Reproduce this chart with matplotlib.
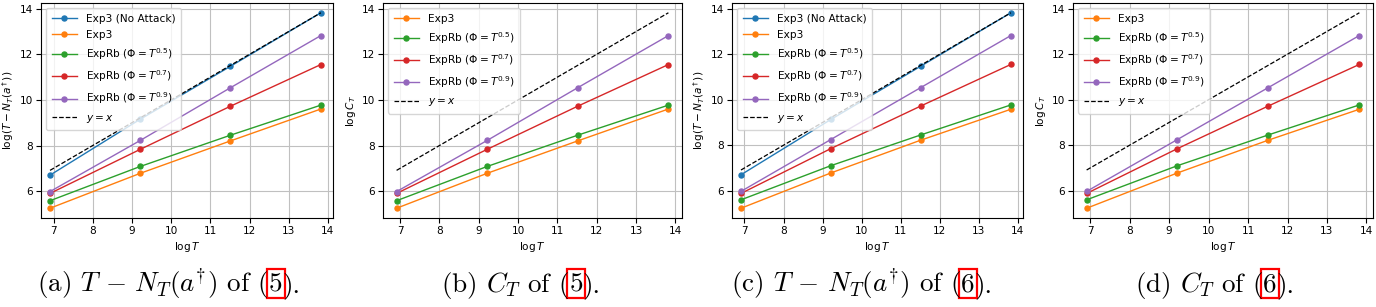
import numpy as np
import matplotlib
matplotlib.use("Agg")
import matplotlib.pyplot as plt
from matplotlib.patches import Rectangle

# log T values (T = 1e3 .. 1e6)
log_t = [6.91, 9.21, 11.51, 13.82]

# eq. (5)
no_attack_5 = [6.70, 9.15, 11.47, 13.82]
exp3_5 = [5.25, 6.78, 8.20, 9.60]
rb05_5 = [5.58, 7.08, 8.45, 9.77]
rb07_5 = [5.90, 7.83, 9.72, 11.55]
rb09_5 = [5.98, 8.22, 10.53, 12.82]

# eq. (6)
no_attack_6 = [6.70, 9.13, 11.47, 13.82]
exp3_6 = [5.23, 6.78, 8.22, 9.58]
rb05_6 = [5.60, 7.10, 8.45, 9.77]
rb07_6 = [5.88, 7.85, 9.72, 11.55]
rb09_6 = [5.97, 8.25, 10.53, 12.82]

series_labels = ["Exp3", r"ExpRb ($\Phi = T^{0.5}$)",
                 r"ExpRb ($\Phi = T^{0.7}$)", r"ExpRb ($\Phi = T^{0.9}$)"]
captions = [("(a) $T\\,-\\,N_T(a^{\\dagger})$ of (", "5", ")."),
            ("(b) $C_T$ of (", "5", ")."),
            ("(c) $T\\,-\\,N_T(a^{\\dagger})$ of (", "6", ")."),
            ("(d) $C_T$ of (", "6", ").")]

colors = ["tab:orange", "tab:green", "tab:red", "tab:purple"]

W, H = 1376, 307
fig = plt.figure(figsize=(W / 100, H / 100), dpi=100)

# axes boxes in pixels: left, right
boxes = [(41, 333), (383, 682), (732, 1023), (1073, 1373)]
top_px, bottom_px = 3, 218
FS = 7.6


def draw_panel(ax, no_attack, rbs, ylabel):
    if no_attack is not None:
        ax.plot(log_t, no_attack, "-o", color="tab:blue", markersize=3.6,
                linewidth=1.0, label="Exp3 (No Attack)")
    for vals, lab, c in zip(rbs, series_labels, colors):
        ax.plot(log_t, vals, "-o", color=c, markersize=3.6, linewidth=1.0, label=lab)
    ax.plot(log_t, log_t, "k--", linewidth=0.9, label="$y = x$")
    ax.grid(True, color="#c0c0c0", linewidth=0.8)
    ax.set_xticks(range(7, 15))
    ax.set_yticks([6, 8, 10, 12, 14])
    ax.tick_params(labelsize=FS, pad=2)
    ax.set_xlabel(r"$\log T$", fontsize=FS, labelpad=3)
    ax.set_ylabel(ylabel, fontsize=FS, labelpad=3)
    ax.legend(loc="upper left", fontsize=FS, handlelength=2.4,
              labelspacing=0.6, borderpad=0.5, handletextpad=0.9)


axes = []
for (l, r) in boxes:
    ax = fig.add_axes([l / W, 1 - bottom_px / H, (r - l) / W, (bottom_px - top_px) / H])
    axes.append(ax)

draw_panel(axes[0], no_attack_5, [exp3_5, rb05_5, rb07_5, rb09_5], r"$\log(T - N_T(a^\dagger))$")
draw_panel(axes[1], None, [exp3_5, rb05_5, rb07_5, rb09_5], r"$\log C_T$")
draw_panel(axes[2], no_attack_6, [exp3_6, rb05_6, rb07_6, rb09_6], r"$\log(T - N_T(a^\dagger))$")
draw_panel(axes[3], None, [exp3_6, rb05_6, rb07_6, rb09_6], r"$\log C_T$")
axes[0].set_xlim(6.68, 14.13)
axes[2].set_xlim(6.68, 14.13)

# captions, built from pieces so the equation number can get a red box
centers = [169, 521, 862, 1215]
base_px = 292
renderer = fig.canvas.get_renderer()
for cx, (pre, num, post) in zip(centers, captions):
    kw = dict(fontsize=19.5, family="cmr10", math_fontfamily="cm",
              va="baseline", ha="left")
    t1 = fig.text(0, 1 - base_px / H, pre, **kw)
    t2 = fig.text(0, 1 - base_px / H, num, **kw)
    t3 = fig.text(0, 1 - base_px / H, post, **kw)
    w = [t.get_window_extent(renderer).width for t in (t1, t2, t3)]
    x0 = cx - sum(w) / 2
    t1.set_x(x0 / W)
    t2.set_x((x0 + w[0]) / W)
    t3.set_x((x0 + w[0] + w[1]) / W)
    # link box round the equation number
    bx0 = x0 + w[0] - 2
    fig.add_artist(Rectangle((bx0 / W, 1 - (base_px + 6) / H), (w[1] + 4) / W, 29 / H,
                             transform=fig.transFigure, fill=False,
                             edgecolor="red", linewidth=1.6))

fig.savefig("out.png", dpi=100)
